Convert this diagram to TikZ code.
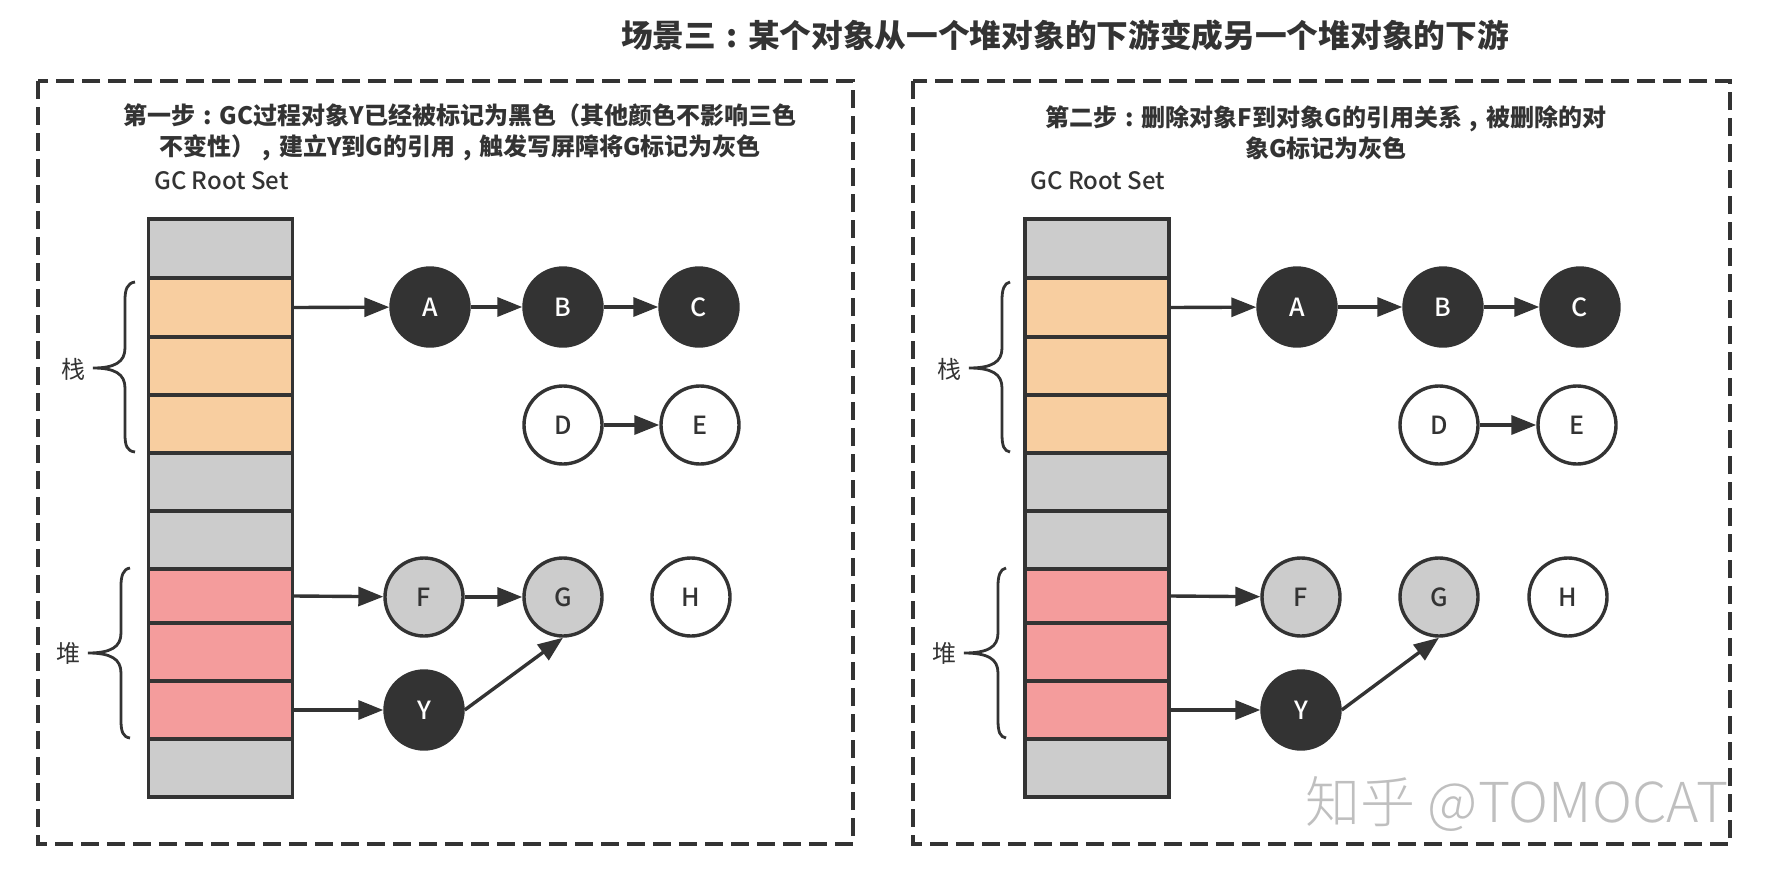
\documentclass[tikz,border=0pt]{standalone}
\usepackage{fontspec}
\setmainfont{Noto Sans CJK SC}
\newfontfamily\midfont{Noto Sans CJK SC Medium}
\newfontfamily\thinfont{Noto Sans CJK SC Light}
\usetikzlibrary{arrows.meta}
\definecolor{inkdark}{HTML}{333333}
\definecolor{cellgray}{HTML}{CCCCCC}
\definecolor{cellorange}{HTML}{F8CEA0}
\definecolor{cellpink}{HTML}{F49C9C}
\definecolor{markgray}{HTML}{BFBFBF}
\newcommand{\cnp}[1]{\makebox[1em][c]{#1}}
\tikzset{
  panelbox/.style={draw=inkdark,line width=3.1pt,dash pattern=on 18pt off 8pt},
  headtext/.style={text=inkdark,font=\bfseries\fontsize{24}{31}\selectfont,align=center,inner sep=0pt},
  settext/.style={text=inkdark,font=\midfont\fontsize{24}{31}\selectfont,inner sep=0pt},
  sidetext/.style={text=inkdark,font=\fontsize{24}{28}\selectfont,inner sep=0pt},
  cellbase/.style={draw=inkdark,line width=3.4pt,minimum width=144pt,inner sep=0pt},
  graycell/.style={cellbase,fill=cellgray},
  orangecell/.style={cellbase,fill=cellorange},
  pinkcell/.style={cellbase,fill=cellpink},
  objbase/.style={circle,draw=inkdark,line width=3.4pt,minimum size=78pt,inner sep=0pt,font=\midfont\fontsize{25}{28}\selectfont},
  blackobj/.style={objbase,fill=inkdark,text=white},
  grayobj/.style={objbase,fill=cellgray,text=inkdark},
  whiteobj/.style={objbase,fill=white,text=inkdark},
  reflink/.style={draw=inkdark,line width=3.4pt,-{Triangle[length=25pt,width=19pt]}},
  bracelink/.style={draw=inkdark,line width=2.8pt}
}
\begin{document}
\begin{tikzpicture}[x=1pt,y=1pt]
    \useasboundingbox (0,0) rectangle (1769,-875);
    \node [inner sep=0pt,text=inkdark,font=\bfseries\fontsize{31.7}{36}\selectfont] (title) at (1065,-35) {场景三\cnp{:}某个对象从一个堆对象的下游变成另一个堆对象的下游};

    \draw [panelbox] (38,-81) rectangle (853,-844);
    \node [headtext] (lstep) at (460,-132.5) {第一步\cnp{:}GC过程对象Y已经被标记为黑色（其他颜色不影响三色\\不变性）\cnp{,}建立Y到G的引用\cnp{,}触发写屏障将G标记为灰色};
    \node [settext] (lset) at (221.5,-181) {GC Root Set};
    \node [graycell,minimum height=59pt] (lcella) at (220.5,-248.5) {};
    \node [orangecell,minimum height=59pt] (lcellb) at (220.5,-307.5) {};
    \node [orangecell,minimum height=58pt] (lcellc) at (220.5,-366) {};
    \node [orangecell,minimum height=58pt] (lcelld) at (220.5,-424) {};
    \node [graycell,minimum height=58pt] (lcelle) at (220.5,-482) {};
    \node [graycell,minimum height=58pt] (lcellf) at (220.5,-540) {};
    \node [pinkcell,minimum height=54pt] (lcellg) at (220.5,-596) {};
    \node [pinkcell,minimum height=58pt] (lcellh) at (220.5,-652) {};
    \node [pinkcell,minimum height=58pt] (lcelli) at (220.5,-710) {};
    \node [graycell,minimum height=58pt] (lcellj) at (220.5,-768) {};
    \node [blackobj] (la) at (430,-307) {A};
    \node [blackobj] (lb) at (563,-307) {B};
    \node [blackobj] (lc) at (699,-307) {C};
    \node [whiteobj] (ld) at (563,-425) {D};
    \node [whiteobj] (le) at (700,-425) {E};
    \node [grayobj] (lf) at (424,-597) {F};
    \node [grayobj] (lg) at (563,-597) {G};
    \node [whiteobj] (lh) at (691,-597) {H};
    \node [blackobj] (ly) at (424,-710) {Y};
    \draw [reflink] (lcellb.east) -- (la);
    \draw [reflink] (la) -- (lb);
    \draw [reflink] (lb) -- (lc);
    \draw [reflink] (ld) -- (le);
    \draw [reflink] (lcellg.east) -- (lf);
    \draw [reflink] (lf) -- (lg);
    \draw [reflink] (lcelli.east) -- (ly);
    \draw [reflink] (ly.east) -- (lg.south);
    \draw [bracelink] (135,-282) .. controls (127,-283) and (125,-290) .. (125,-300) -- (125,-348) .. controls (125,-362) and (115,-368) .. (93,-368) .. controls (115,-368) and (125,-374) .. (125,-388) -- (125,-434) .. controls (125,-446) and (127,-451) .. (135,-452);
    \draw [bracelink] (130,-568) .. controls (123,-569) and (121,-576) .. (121,-586) -- (121,-633) .. controls (121,-647) and (111,-653) .. (88,-653) .. controls (111,-653) and (121,-659) .. (121,-673) -- (121,-720) .. controls (121,-732) and (123,-737) .. (130,-738);
    \node [sidetext] (lstack) at (73,-369) {栈};
    \node [sidetext] (lheap) at (68,-653) {堆};

    \draw [panelbox] (913,-81) rectangle (1730,-844);
    \node [headtext] (rstep) at (1326,-132.5) {第二步\cnp{:}删除对象F到对象G的引用关系\cnp{,}被删除的对\\象G标记为灰色};
    \node [settext] (rset) at (1098,-181) {GC Root Set};
    \node [graycell,minimum height=59pt] (rcella) at (1097,-248.5) {};
    \node [orangecell,minimum height=59pt] (rcellb) at (1097,-307.5) {};
    \node [orangecell,minimum height=58pt] (rcellc) at (1097,-366) {};
    \node [orangecell,minimum height=58pt] (rcelld) at (1097,-424) {};
    \node [graycell,minimum height=58pt] (rcelle) at (1097,-482) {};
    \node [graycell,minimum height=58pt] (rcellf) at (1097,-540) {};
    \node [pinkcell,minimum height=54pt] (rcellg) at (1097,-596) {};
    \node [pinkcell,minimum height=58pt] (rcellh) at (1097,-652) {};
    \node [pinkcell,minimum height=58pt] (rcelli) at (1097,-710) {};
    \node [graycell,minimum height=58pt] (rcellj) at (1097,-768) {};
    \node [blackobj] (ra) at (1297,-307) {A};
    \node [blackobj] (rb) at (1443,-307) {B};
    \node [blackobj] (rc) at (1580,-307) {C};
    \node [whiteobj] (rd) at (1439,-425) {D};
    \node [whiteobj] (re) at (1577,-425) {E};
    \node [grayobj] (rf) at (1301,-597) {F};
    \node [grayobj] (rg) at (1439,-597) {G};
    \node [whiteobj] (rh) at (1568,-597) {H};
    \node [blackobj] (ry) at (1301,-710) {Y};
    \draw [reflink] (rcellb.east) -- (ra);
    \draw [reflink] (ra) -- (rb);
    \draw [reflink] (rb) -- (rc);
    \draw [reflink] (rd) -- (re);
    \draw [reflink] (rcellg.east) -- (rf);
    \draw [reflink] (rcelli.east) -- (ry);
    \draw [reflink] (ry.east) -- (rg.south);
    \draw [bracelink] (1010,-282) .. controls (1004,-283) and (1002,-290) .. (1002,-300) -- (1002,-348) .. controls (1002,-362) and (992,-368) .. (969,-368) .. controls (992,-368) and (1002,-374) .. (1002,-388) -- (1002,-434) .. controls (1002,-446) and (1004,-451) .. (1010,-452);
    \draw [bracelink] (1006,-568) .. controls (1000,-569) and (998,-576) .. (998,-586) -- (998,-633) .. controls (998,-647) and (988,-653) .. (964,-653) .. controls (988,-653) and (998,-659) .. (998,-673) -- (998,-720) .. controls (998,-732) and (1000,-737) .. (1006,-738);
    \node [sidetext] (rstack) at (949,-369) {栈};
    \node [sidetext] (rheap) at (944,-653) {堆};

    \node [inner sep=0pt,text=markgray,font=\thinfont\fontsize{55}{60}\selectfont] (mark) at (1517,-804) {知乎 @TOMOCAT};
\end{tikzpicture}
\end{document}
